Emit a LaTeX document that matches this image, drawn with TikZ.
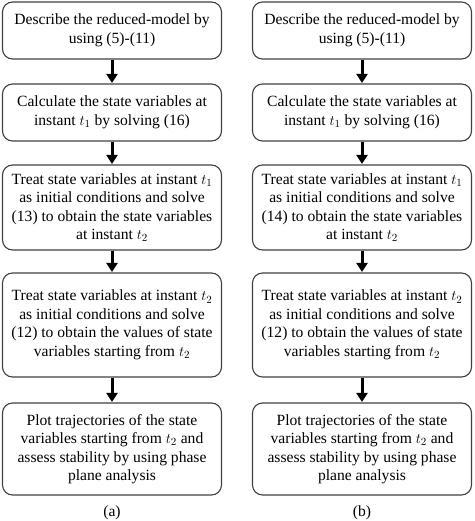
\documentclass[tikz,border=0pt]{standalone}
\usepackage{fontspec}
\setmainfont{Liberation Serif}
\usetikzlibrary{arrows.meta}
\tikzset{
  flowbox/.style={draw=black!75, line width=1.1pt, rounded corners=10pt, minimum width=219pt,
    align=center, inner sep=0pt, font=\fontsize{15.6}{18.5}\selectfont},
  flowarrow/.style={line width=3pt, -{Triangle[width=11pt,length=9pt]}, shorten >=0.5pt},
  caplabel/.style={font=\fontsize{15.6}{18}\selectfont, anchor=south, inner sep=0pt}
}
\begin{document}
\begin{tikzpicture}[x=1pt,y=-1pt]
\useasboundingbox (0,0) rectangle (474,521);
\foreach \cx/\eq/\lab/\nm in {112/13/a/L, 362/14/b/R}{
  \node[flowbox, minimum height=57pt] (\nm1) at (\cx,30.5) {Describe the reduced-model by\\using (5)-(11)};
  \node[flowbox, minimum height=57pt] (\nm2) at (\cx,112.5) {Calculate the state variables at\\instant $t_1$ by solving (16)};
  \node[flowbox, minimum height=85pt] (\nm3) at (\cx,207.5) {Treat state variables at instant $t_1$\\as initial conditions and solve\\(\eq) to obtain the state variables\\at instant $t_2$};
  \node[flowbox, minimum height=104pt] (\nm4) at (\cx,325) {Treat state variables at instant $t_2$\\as initial conditions and solve\\(12) to obtain the values of state\\variables starting from $t_2$};
  \node[flowbox, minimum height=92pt] (\nm5) at (\cx,449) {Plot trajectories of the state\\variables starting from $t_2$ and\\assess stability by using phase\\plane analysis};
  \node[caplabel] (\nm cap) at (\cx,520) {(\lab)};
  \draw[flowarrow] (\nm1.south) -- (\nm2.north);
  \draw[flowarrow] (\nm2.south) -- (\nm3.north);
  \draw[flowarrow] (\nm3.south) -- (\nm4.north);
  \draw[flowarrow] (\nm4.south) -- (\nm5.north);
}
\end{tikzpicture}
\end{document}
